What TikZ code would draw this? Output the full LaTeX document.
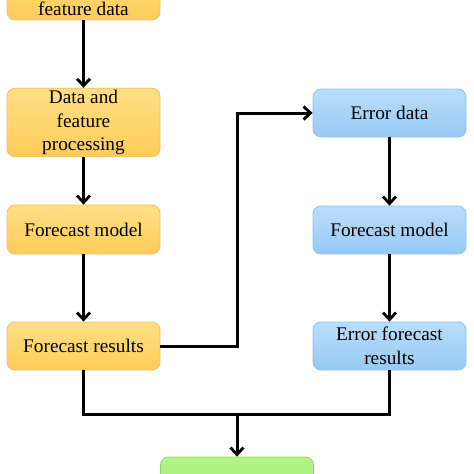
\documentclass[tikz,border=0pt]{standalone}
\usepackage{fontspec}
\setmainfont{Liberation Serif}
\usetikzlibrary{arrows.meta}
\definecolor{otop}{HTML}{FFDF85}
\definecolor{obot}{HTML}{FCCC58}
\definecolor{oline}{HTML}{F2C062}
\definecolor{btop}{HTML}{BADEFB}
\definecolor{bbot}{HTML}{96C9F4}
\definecolor{bline}{HTML}{8DC1EC}
\definecolor{gtop}{HTML}{B2F38A}
\definecolor{gbot}{HTML}{A2EC76}
\definecolor{gline}{HTML}{8ED46A}
\tikzset{
  box/.style={rounded corners=8pt, minimum width=153pt, inner sep=2pt, align=center,
    font=\fontsize{19.3}{23.5}\selectfont, text=black, line width=0.8pt},
  obox/.style={box, draw=oline, top color=otop, bottom color=obot},
  bbox/.style={box, draw=bline, top color=btop, bottom color=bbot},
  gbox/.style={box, draw=gline, top color=gtop, bottom color=gbot},
  arr/.style={line width=3pt, -{Straight Barb[length=7pt,width=13pt,line width=2.8pt]}},
  ln/.style={line width=3pt},
  lbl/.style={font=\fontsize{19.3}{23.5}\selectfont, text=black}
}
\begin{document}
\begin{tikzpicture}[x=1pt,y=-1pt]
\useasboundingbox (0,0) rectangle (474,474);
\clip (0,0) rectangle (474,474);
\node[obox, minimum height=60pt] (fd) at (83.5,-10) {};
\node[lbl] (fdt) at (83.5,9) {feature data};
\node[obox, minimum height=67pt] (dfp) at (83.5,122.5) {Data and\\feature\\processing};
\node[obox, minimum height=49pt] (fm) at (83.5,229.5) {Forecast model};
\node[obox, minimum height=48pt] (fr) at (83.5,346) {Forecast results};
\node[bbox, minimum height=48pt] (ed) at (389.5,113) {Error data};
\node[bbox, minimum height=48pt] (fm2) at (389.5,230) {Forecast model};
\node[bbox, minimum height=48pt] (efr) at (389.5,346) {Error forecast\\results};
\node[gbox, minimum height=50pt] (res) at (237,482) {};
\coordinate (jx) at (237,0);
\coordinate (m) at (237,414);
\draw[arr] (fd.south) -- (dfp.north);
\draw[arr] (dfp.south) -- (fm.north);
\draw[arr] (fm.south) -- (fr.north);
\draw[arr] (fr.east) -| (jx |- ed.west) -- (ed.west);
\draw[arr] (ed.south) -- (fm2.north);
\draw[arr] (fm2.south) -- (efr.north);
\draw[ln] (fr.south) |- (m) -| (efr.south);
\draw[arr] (m) -- (res.north);
\end{tikzpicture}
\end{document}
